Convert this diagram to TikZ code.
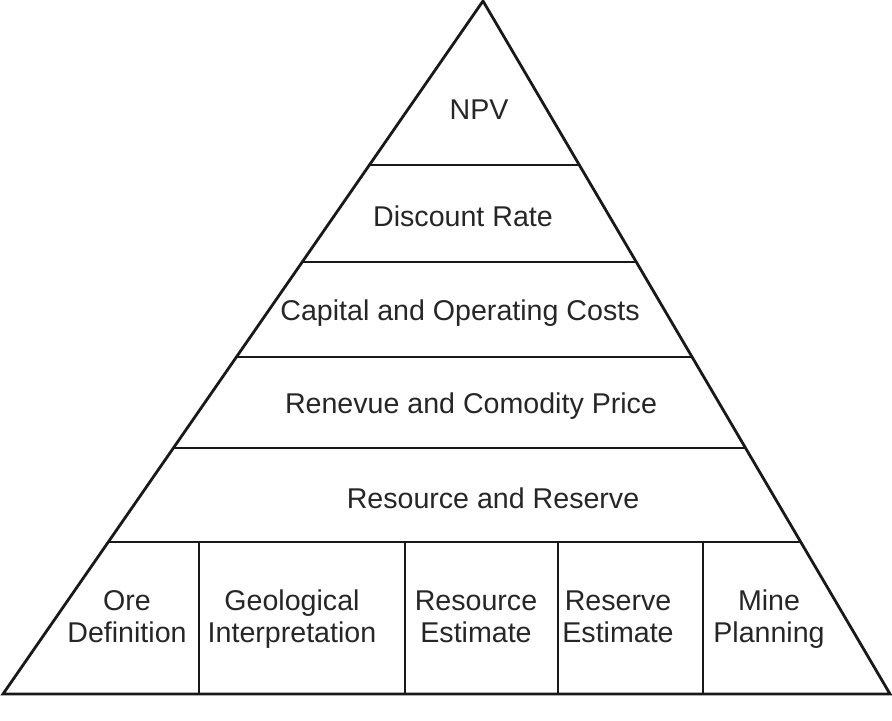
\documentclass[tikz,border=0pt]{standalone}
\usepackage{fontspec}
\setmainfont{Liberation Sans}
\usetikzlibrary{calc,positioning}

\tikzset{
  lvl/.style={anchor=base, align=center, inner sep=0pt, text=black!85,
    font=\fontsize{14.3}{16}\selectfont},
  edge/.style={line width=1.4pt, draw=black!90}
}

\begin{document}
\begin{tikzpicture}[x=0.5pt,y=-0.5pt]
\useasboundingbox (0,0) rectangle (892,721);

\coordinate (top) at (483,1);
\coordinate (bl) at (3,694);
\coordinate (br) at (890,694);

\draw[edge] (bl) -- (top) -- (br) -- cycle;

\foreach \t [count=\i] in {0.7634,0.6234,0.4863,0.3550,0.2193} {
\coordinate (a\i) at ($(bl)!\t!(top)$);
\coordinate (b\i) at ($(br)!\t!(top)$);
\draw[edge] (a\i) -- (b\i);
}

\foreach \x [count=\i] in {199,405,558,703} {
\coordinate (d\i) at (\x,542);
\draw[edge] (d\i) -- (d\i |- bl);
}

\node (l0) at (479,120) [lvl] {NPV};
\node (l1) at (463,227) [lvl] {Discount Rate};
\node (l2) at (460,320) [lvl] {Capital and Operating Costs};
\node (l3) at (471,413) [lvl] {Renevue and Comodity Price};
\node (l4) at (493,508) [lvl] {Resource and Reserve};

\node (m0) at (127,642) [lvl] {Ore\\Definition};
\node (m1) at (292,642) [lvl] {Geological\\Interpretation};
\node (m2) at (476,642) [lvl] {Resource\\Estimate};
\node (m3) at (618,642) [lvl] {Reserve\\Estimate};
\node (m4) at (769,642) [lvl] {Mine\\Planning};
\end{tikzpicture}
\end{document}
